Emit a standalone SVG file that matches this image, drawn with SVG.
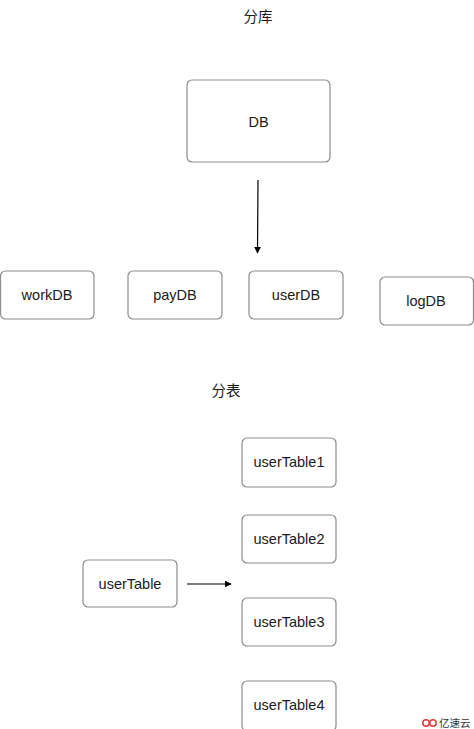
<svg xmlns="http://www.w3.org/2000/svg" width="474" height="729" viewBox="0 0 474 729">
<style>
.box{fill:#fff;stroke:#8c8c8c;stroke-width:1.2}
.t{font-family:"Liberation Sans","Noto Sans CJK SC",sans-serif;font-size:14.5px;fill:#1a1a1a;text-anchor:middle}
.c{stroke:#000;stroke-width:1.2;fill:none}
</style>
<defs>
<marker id="ah" viewBox="0 0 10 10" refX="9" refY="5" markerWidth="7" markerHeight="7" orient="auto" markerUnits="userSpaceOnUse">
<path d="M0,0 L10,5 L0,10 z" fill="#000"/>
</marker>
</defs>
<rect width="474" height="729" fill="#fff"/>
<text class="t" x="258" y="22">分库</text>
<text class="t" x="226" y="396">分表</text>
<g id="DB"><rect class="box" x="187" y="80" width="143" height="82" rx="5"/><text class="t" x="258.5" y="126.5">DB</text></g>
<g id="workDB"><rect class="box" x="0.5" y="271" width="93.5" height="48" rx="5"/><text class="t" x="47" y="300">workDB</text></g>
<g id="payDB"><rect class="box" x="128" y="271" width="94" height="48" rx="5"/><text class="t" x="175" y="300">payDB</text></g>
<g id="userDB"><rect class="box" x="249" y="271" width="94" height="48" rx="5"/><text class="t" x="296" y="300">userDB</text></g>
<g id="logDB"><rect class="box" x="380" y="277" width="93.5" height="48" rx="5"/><text class="t" x="426" y="306">logDB</text></g>
<g id="userTable"><rect class="box" x="83" y="560" width="94" height="47" rx="5"/><text class="t" x="130" y="589">userTable</text></g>
<g id="userTable1"><rect class="box" x="242" y="438" width="94" height="49" rx="5"/><text class="t" x="289" y="467">userTable1</text></g>
<g id="userTable2"><rect class="box" x="242" y="515" width="94" height="48" rx="5"/><text class="t" x="289" y="544">userTable2</text></g>
<g id="userTable3"><rect class="box" x="242" y="598" width="94" height="48" rx="5"/><text class="t" x="289" y="627">userTable3</text></g>
<g id="userTable4"><rect class="box" x="242" y="681" width="94" height="50" rx="5"/><text class="t" x="289" y="710">userTable4</text></g>
<g id="connectors">
<line class="c" x1="258" y1="180" x2="257.5" y2="253" marker-end="url(#ah)"/>
<line class="c" x1="187" y1="584" x2="231" y2="584" marker-end="url(#ah)"/>
</g>
<g id="watermark">
<circle cx="426" cy="723" r="3.2" fill="none" stroke="#e03a3a" stroke-width="1.5"/>
<circle cx="433" cy="723" r="3.2" fill="none" stroke="#e03a3a" stroke-width="1.5"/>
<text x="439" y="727" font-family="'Noto Sans CJK SC',sans-serif" font-size="10.5" fill="#333">亿速云</text>
</g>
</svg>
